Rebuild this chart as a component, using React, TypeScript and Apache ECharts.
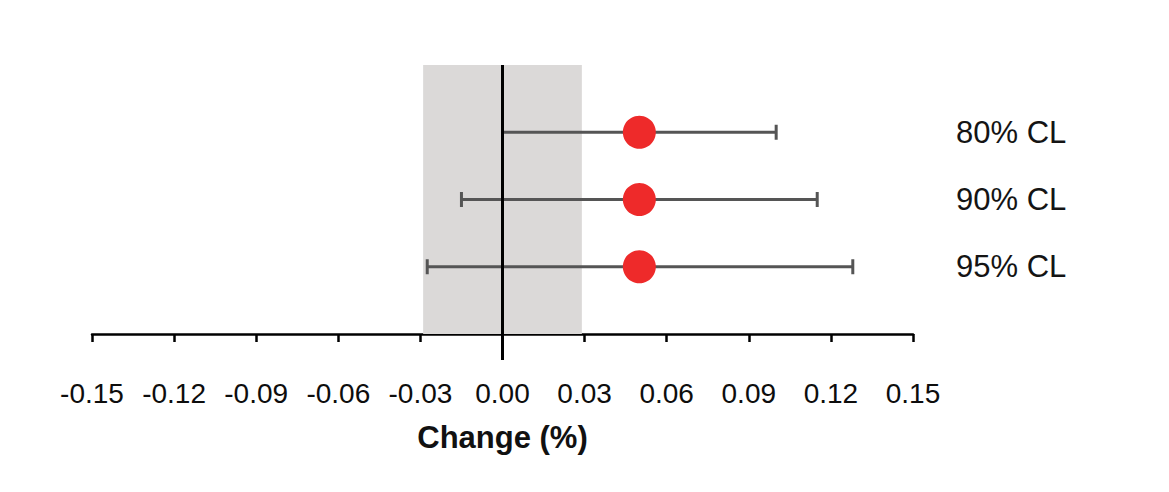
import React, { useEffect, useRef } from "react";
import * as echarts from "echarts";

const rowLabels = ["80% CL", "90% CL", "95% CL"];
const rowPositions = [3, 2, 1];
const estimates = [0.05, 0.05, 0.05];
const lowerBounds = [0.0, -0.015, -0.0275];
const upperBounds = [0.1, 0.115, 0.128];
const bandRange = [-0.029, 0.029];
const xMin = -0.15;
const xMax = 0.15;
const xInterval = 0.03;
const yMin = 0;
const yMax = 4;

const FONT = "'Liberation Sans', Arial, Helvetica, sans-serif";

export default function App() {
  const ref = useRef<HTMLDivElement>(null);
  useEffect(() => {
    if (!ref.current) return;
    const chart = echarts.init(ref.current, undefined, { renderer: "svg" });
    const labelByPos: Record<number, string> = {};
    rowPositions.forEach((p, i) => (labelByPos[p] = rowLabels[i]));

    const errData = rowPositions.map((p, i) => [lowerBounds[i], upperBounds[i], p]);
    const pointData = rowPositions.map((p, i) => [estimates[i], p]);

    chart.setOption({
      animation: false,
      backgroundColor: "#ffffff",
      grid: { left: 84, right: 248, top: 57, bottom: 150, containLabel: false },
      xAxis: {
        type: "value",
        min: xMin,
        max: xMax,
        interval: xInterval,
        name: "Change (%)",
        nameLocation: "middle",
        nameGap: 88,
        nameTextStyle: { fontFamily: FONT, fontSize: 31, fontWeight: "bold", color: "#111" },
        axisLine: { show: true, onZero: false, lineStyle: { color: "#000", width: 2.5 } },
        axisTick: { show: true, length: 8, lineStyle: { color: "#000", width: 2.5 } },
        axisLabel: {
          margin: 45,
          fontFamily: FONT,
          fontSize: 28,
          color: "#0d0d0d",
          formatter: (v: number) => (Math.abs(v) < 1e-9 ? "0.00" : v.toFixed(2)),
        },
        splitLine: { show: false },
      },
      yAxis: {
        type: "value",
        min: yMin,
        max: yMax,
        interval: 1,
        position: "right",
        axisLine: { show: false },
        axisTick: { show: false },
        splitLine: { show: false },
        axisLabel: {
          margin: 43,
          fontFamily: FONT,
          fontSize: 31,
          color: "#141414",
          formatter: (v: number) => labelByPos[Math.round(v)] || "",
        },
      },
      series: [
        {
          type: "custom",
          z: 1,
          silent: true,
          data: [[bandRange[0], bandRange[1]]],
          renderItem: (params: any, api: any) => {
            const p0 = api.coord([api.value(0), yMax]);
            const p1 = api.coord([api.value(1), yMin]);
            return {
              type: "rect",
              shape: { x: p0[0], y: p0[1], width: p1[0] - p0[0], height: p1[1] - p0[1] },
              style: { fill: "#dbd9d8" },
            };
          },
        },
        {
          type: "custom",
          z: 2,
          silent: true,
          data: errData,
          renderItem: (params: any, api: any) => {
            const lo = api.coord([api.value(0), api.value(2)]);
            const hi = api.coord([api.value(1), api.value(2)]);
            const cap = 7.5;
            const st = { stroke: "#555555", lineWidth: 3 };
            return {
              type: "group",
              children: [
                { type: "line", shape: { x1: lo[0], y1: lo[1], x2: hi[0], y2: hi[1] }, style: st },
                { type: "line", shape: { x1: lo[0], y1: lo[1] - cap, x2: lo[0], y2: lo[1] + cap }, style: st },
                { type: "line", shape: { x1: hi[0], y1: hi[1] - cap, x2: hi[0], y2: hi[1] + cap }, style: st },
              ],
            };
          },
        },
        {
          type: "custom",
          z: 3,
          silent: true,
          clip: false,
          data: [[0]],
          renderItem: (params: any, api: any) => {
            const top = api.coord([api.value(0), yMax]);
            const bot = api.coord([api.value(0), yMin]);
            return {
              type: "line",
              shape: { x1: top[0], y1: top[1], x2: bot[0], y2: bot[1] + 26 },
              style: { stroke: "#000", lineWidth: 3 },
            };
          },
        },
        {
          type: "scatter",
          z: 4,
          symbol: "circle",
          symbolSize: 33,
          itemStyle: { color: "#ee2a2a", opacity: 1 },
          data: pointData,
        },
      ],
    });
    return () => chart.dispose();
  }, []);
  return <div ref={ref} style={{ width: 1153, height: 476 }} />;
}
